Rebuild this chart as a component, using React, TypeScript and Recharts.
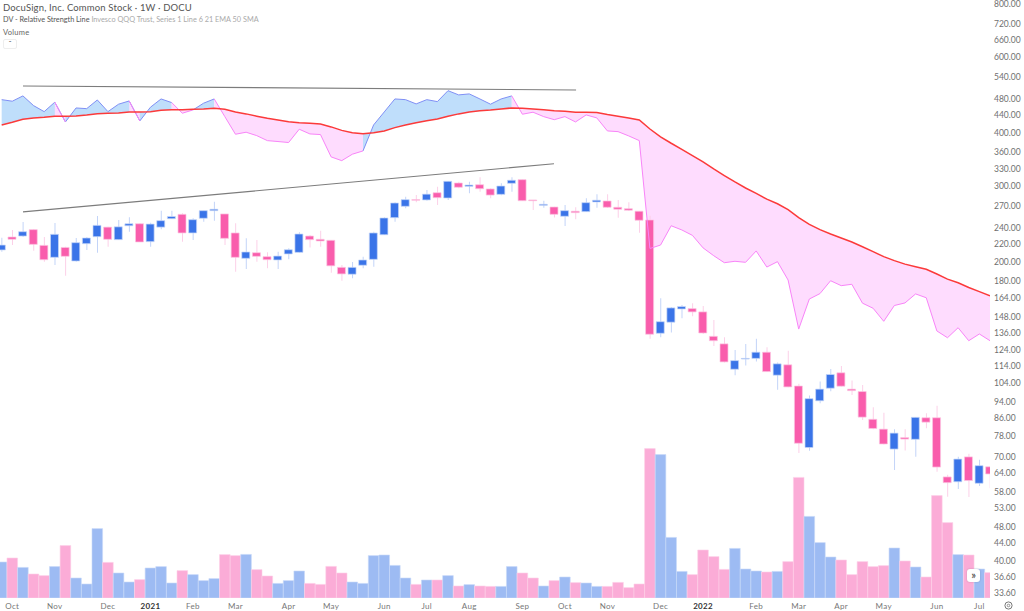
import React from 'react';
import { ComposedChart, Bar, Line, Area, XAxis, YAxis, Cell, ReferenceLine } from 'recharts';

const opens = [211.7,227,228.2,236.2,217,203.5,214.6,199.5,219,227.4,239.4,223.8,241.2,243.8,221.4,239.4,250.5,256.5,232,251.1,261.6,257,232,202.4,208.6,204.2,200.6,207.2,209,228.2,224.2,223,192.8,185.8,195,201.3,229.8,251.9,267.8,277.6,277.1,288.1,280,303.6,298.2,300.8,294,285.6,303.1,309.1,277.1,269.2,266.8,253.8,260.8,260.2,274.1,275.6,266.4,264.4,260.8,248.8,135.2,143.5,154.1,154.4,151.7,133,127.7,111.4,117.7,118.1,122.1,107.9,114.1,101.8,73.1,94,100.6,109.3,100.1,98.8,85.1,80.7,72.5,77.1,76.4,85.8,85.8,62.4,60.8,69.5,60.3,65.9];
const closes = [217.4,224.2,233.6,218.2,200.9,230.3,204.6,220.2,225.8,241.7,224.2,239.8,243.8,221,243.4,247.9,253.5,232,249.2,261.6,263.6,225.4,203.5,209.4,204.6,200.9,204.9,212,230.7,223.8,222.2,194.4,186.1,192.8,200.6,232,251.5,272.6,277.6,276.7,285.9,280.5,306.4,296.7,300.3,294.4,284.5,298.7,308.1,276,276,270.7,256.5,261.6,258.8,273.1,276.7,266.4,263.6,262.2,248.4,134.5,143.9,155,156.1,151.7,135.4,129.9,115.9,116.7,118.1,122.1,110,114.7,101.3,74.8,95.1,100.1,108.3,101.7,99.3,86.1,81,74.5,79,76.5,86,83.8,65.8,60.5,68.7,61.2,66.3,63.4];
const highs = [226.2,235.8,246.1,237.1,227,244.8,215.4,225.8,227,254.2,239.8,248.8,252.4,244.4,245.2,261.6,261.6,258,251.1,261.6,274.6,257,244.4,225.4,223.4,209,209.8,213.7,232.9,229.4,234.9,223.4,195.3,198.5,204.2,233.6,252.4,273.7,282,284.5,292.4,297.7,306.9,305.8,305.8,313.1,295,303.1,313.1,309.5,277.1,276,267.3,269.7,266.4,279.6,285.9,285.9,277.1,273.7,260.8,254.6,163.2,155.8,157.5,159,156.5,145.2,132.3,123.6,127.7,131.3,125.4,115.5,123.1,103,96.7,104.3,111.6,113.4,104.8,102.4,90.8,88.2,80.7,80.7,86.2,87.9,91.5,63.1,69.6,70.7,68.4,65.9];
const lows = [209.8,217.4,227,210.9,198.8,195.2,184.3,198.8,211.7,208.6,215.4,223.4,233.6,221,215.4,236.7,250.1,221.4,223.4,246.5,247.9,217.4,188.4,191.1,198.8,191.9,191.1,201.3,208.6,214.4,215.4,187.4,179.4,181.7,191.9,193.4,229.4,246.5,265,273.7,276,269.7,277.1,295,287.2,289.7,279.6,284.1,289.7,275.7,262.6,265.8,252,240.8,249.8,259.8,265.8,265.4,251.9,261.2,232.4,131.3,132.3,135.7,146.5,148.2,134.7,126.2,115.5,107.9,113.6,116.1,109.8,99.7,101.1,71,71.8,92.8,98.9,101.5,97,84.8,80.7,74.3,64.8,71.9,69.6,81.1,64.2,56.1,58.5,56,59.4,58.7];
const rsLine = [475.5,471.5,485.2,460.5,445.8,469,421.7,454.7,453,474.7,445.8,464,472.2,424,456.5,477.3,468,442,449.8,466.5,477.3,434,394.7,399,391.8,381.4,379.5,377.5,405.5,395.4,394,349.4,342.4,354.5,360.8,415,445,477.3,475.5,464.7,475.5,470.5,499,487.8,490.4,477.3,464,477.3,485.2,439.6,444.4,434,426.9,434,421.7,438,431,401.8,400.3,391.2,381.4,213.4,217.4,241.2,235.8,229,214.1,205.3,197.7,199.2,198.1,210.6,193.1,198.8,180.1,138.3,162.6,167.4,179.4,174.7,176,159,154.7,144.2,157,159.2,167.1,163.7,136.9,132,139.3,129.9,134.7,129.9];
const ema21 = [415,421,427.8,431,432.6,435,435,435.6,438,441,442,442.7,445,445,445.8,449,450.5,450.5,451.5,452.2,454,451.5,445,440.4,435,430,426.2,422.4,420,418.6,417,410.6,403,398,396,398,401.8,409,415,420,424.6,428.6,435,440.4,445,448,449.8,452.2,454.7,454,452.2,450.5,448,446.7,444.4,444.4,443.5,438.8,435,431,426.2,406,389.3,376,364,351.8,340,327.4,316,305.3,295.5,287,278.4,271.5,263,252,243,236.2,230.7,225.8,221,215.4,209.8,204.2,199.9,196.2,193.4,190.8,186,181,177.4,173,169.2,165.5];
const volumes = [18,20,15.3,12,11.2,15.7,26.2,10,7,34.7,17.8,12.5,8,9.2,15,15.7,7.5,13.7,11.7,8.7,9.7,21.7,21.2,21.8,14.2,11,7.3,8.7,13.5,7.3,6.8,15.8,12.5,8,7.3,21.2,21.5,16.3,10,6.8,9,9,11.2,6,6.7,6,5.8,5.8,15.7,12.5,10,6,8.7,10.5,7.7,7.5,5.8,5.8,7.8,5.2,7,74.7,71.7,30.3,13.3,11.7,24,20.7,14.3,24.8,14.5,13.5,13,13.3,18.2,60.3,40.8,27.7,20.5,19,11.7,18.2,15.7,16.2,25,18.5,15.5,10.5,51.2,37.7,21.7,21.5,14.5,12.7];

const priceTicks = [800,720,660,600,540,480,440,400,360,330,300,270,240,220,200,180,164,148,136,124,114,104,94,86,78,70,64,58,53,48,44,40,36.6,33.6];
const timeIndexes = [1,5,10,14,18,22,27,31,36,40,44,49,53,57,62,66,71,75,79,83,88,92];
const timeLabels = ['Oct','Nov','Dec','2021','Feb','Mar','Apr','May','Jun','Jul','Aug','Sep','Oct','Nov','Dec','2022','Feb','Mar','Apr','May','Jun','Jul'];
const upperTrend = [{ x: 2.007, y: 511.8 }, { x: 54.05, y: 500.9 }];
const lowerTrend = [{ x: 2.007, y: 259.8 }, { x: 51.97, y: 336.7 }];

const above = rsLine.map((v, i) => v > ema21[i]);
const rows = rsLine.map((rs, i) => {
  const next = i + 1 < rsLine.length ? above[i + 1] : above[i];
  const inBlue = above[i] || next;
  const inPink = !above[i] || !next;
  return {
    i,
    ema: ema21[i],
    volume: volumes[i],
    up: closes[i] >= opens[i],
    wick: [lows[i], highs[i]],
    body: [Math.min(opens[i], closes[i]), Math.max(opens[i], closes[i])],
    rsBlue: inBlue ? rs : null,
    rsPink: inPink ? rs : null,
    bandBlue: inBlue ? [rs, ema21[i]] : null,
    bandPink: inPink ? [rs, ema21[i]] : null,
  };
});

const FONT = 'Lato, "Noto Sans", sans-serif';

function TimeTick(props: any) {
  const { x, payload } = props;
  const label = timeLabels[timeIndexes.indexOf(payload.value)] ?? '';
  const bold = /^\d/.test(label);
  return (
    <text x={x} y={609} textAnchor="middle" fontFamily={FONT} fontSize={8} fontWeight={bold ? 700 : 400} letterSpacing={0.3} fill={bold ? '#333' : '#777'}>
      {label}
    </text>
  );
}

export default function App() {
  return (
    <div style={{ position: 'absolute', left: 0, top: 0, width: 1024, height: 611, background: '#fff', overflow: 'hidden', fontFamily: FONT }}>
      <ComposedChart width={1024} height={611} data={rows} margin={{ top: 0, right: 0, bottom: 0, left: 0 }}>
        <XAxis xAxisId="m" dataKey="i" type="number" domain={[-0.157, 93]} allowDataOverflow ticks={timeIndexes} interval={0} height={13} tickLine={false} axisLine={false} tick={<TimeTick />} tickSize={0} />
        <XAxis xAxisId="w" dataKey="i" type="number" domain={[-0.157, 93]} allowDataOverflow hide />
        <XAxis xAxisId="b" dataKey="i" type="number" domain={[-0.157, 93]} allowDataOverflow hide />
        <YAxis yAxisId="p" orientation="right" type="number" scale="log" domain={[32.52, 813]} allowDataOverflow ticks={priceTicks} interval={0} width={34} tickLine={false} axisLine={false} tickSize={0} tickMargin={4}
          tick={{ fontSize: 8.5, fontFamily: FONT, fill: '#6f6f6f', dy: 1 }} tickFormatter={(v: number) => v.toFixed(2)} />
        <YAxis yAxisId="v" type="number" domain={[0, 299]} allowDataOverflow hide />

        <Bar xAxisId="m" yAxisId="v" dataKey="volume" barSize={10.6} isAnimationActive={false}>
          {rows.map((r) => (
            <Cell key={r.i} fill={r.up ? '#9dbbf3' : '#fbacd7'} stroke={r.up ? '#c9daf9' : '#fdd0e8'} strokeWidth={0.6} />
          ))}
        </Bar>

        <Area xAxisId="m" yAxisId="p" dataKey="bandBlue" type="linear" stroke="none" fill="#bfdefb" fillOpacity={1} isAnimationActive={false} dot={false} activeDot={false} />
        <Area xAxisId="m" yAxisId="p" dataKey="bandPink" type="linear" stroke="none" fill="#fedcfe" fillOpacity={1} isAnimationActive={false} dot={false} activeDot={false} />
        <Line xAxisId="m" yAxisId="p" dataKey="rsBlue" type="linear" stroke="#7f8ff5" strokeWidth={1} dot={false} activeDot={false} isAnimationActive={false} />
        <Line xAxisId="m" yAxisId="p" dataKey="rsPink" type="linear" stroke="#f884f8" strokeWidth={1} dot={false} activeDot={false} isAnimationActive={false} />
        <Line xAxisId="m" yAxisId="p" dataKey="ema" type="linear" stroke="#fb3a3a" strokeWidth={1.5} dot={false} activeDot={false} isAnimationActive={false} />

        <Bar xAxisId="w" yAxisId="p" dataKey="wick" barSize={1} isAnimationActive={false}>
          {rows.map((r) => (
            <Cell key={r.i} fill={r.up ? '#c3d4f8' : '#fcd0e8'} />
          ))}
        </Bar>
        <Bar xAxisId="b" yAxisId="p" dataKey="body" barSize={8} isAnimationActive={false}>
          {rows.map((r) => (
            <Cell key={r.i} fill={r.up ? '#3a74e8' : '#f95dac'} stroke={r.up ? '#c9d9f8' : '#fcc6e2'} strokeWidth={0.7} />
          ))}
        </Bar>

        <ReferenceLine xAxisId="m" yAxisId="p" segment={upperTrend} stroke="#7c7c7c" strokeWidth={1.2} />
        <ReferenceLine xAxisId="m" yAxisId="p" segment={lowerTrend} stroke="#7c7c7c" strokeWidth={1.2} />
      </ComposedChart>

      <div style={{ position: 'absolute', left: 3, top: 1, fontSize: 9.5, lineHeight: '14px', letterSpacing: 0.15, color: '#555', whiteSpace: 'nowrap' }}>
        DocuSign, Inc. Common Stock · 1W · DOCU
      </div>
      <div style={{ position: 'absolute', left: 3, top: 14, fontSize: 7.3, lineHeight: '11px', color: '#555', whiteSpace: 'nowrap' }}>
        DV - Relative Strength Line <span style={{ color: '#aaa' }}>Invesco QQQ Trust, Series 1 Line 6 21 EMA 50 SMA</span>
      </div>
      <div style={{ position: 'absolute', left: 3, top: 27, fontSize: 7.5, lineHeight: '11px', letterSpacing: 0.25, color: '#666' }}>Volume</div>
      <div style={{ position: 'absolute', left: 3, top: 39, width: 14, height: 10, border: '1px solid #eee', borderRadius: 2, boxSizing: 'border-box', background: '#fff', color: '#555', fontSize: 8, lineHeight: '9px', textAlign: 'center' }}>ˆ</div>
      <div style={{ position: 'absolute', left: 967, top: 569, width: 13, height: 13, borderRadius: 3, background: '#fff', boxShadow: '0 0 2px rgba(0,0,0,.2)', color: '#333', fontSize: 11, lineHeight: '11px', textAlign: 'center' }}>»</div>
      <svg style={{ position: 'absolute', left: 1004, top: 601 }} width={9} height={9} viewBox="0 0 9 9">
        <circle cx={4.5} cy={4.5} r={3.6} fill="none" stroke="#777" strokeWidth={1} />
        <circle cx={4.5} cy={4.5} r={1.3} fill="none" stroke="#777" strokeWidth={0.8} />
      </svg>
    </div>
  );
}
